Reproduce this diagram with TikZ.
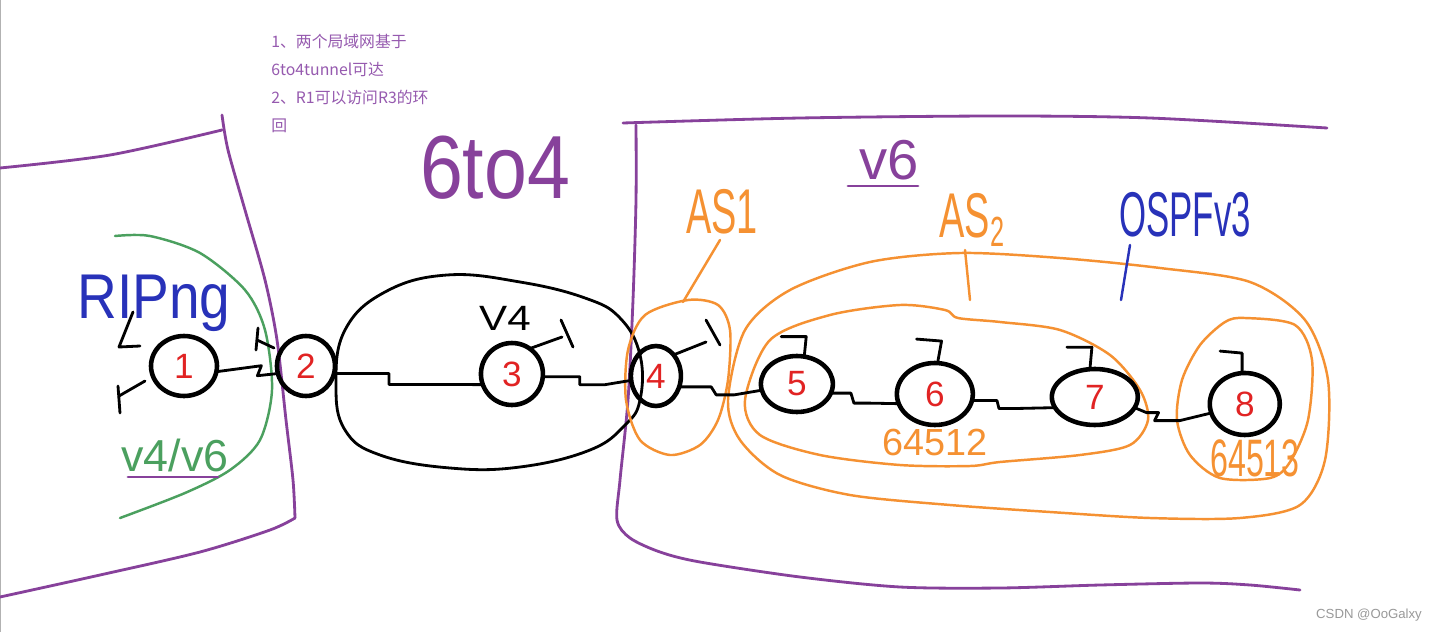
\documentclass[tikz,border=0pt]{standalone}
\usepackage{fontspec}
\setmainfont{Liberation Sans}
\newfontfamily\cjkfont{Noto Sans CJK SC}
\usetikzlibrary{positioning,shapes.geometric}
\definecolor{penpurple}{RGB}{135,65,155}
\definecolor{notepurple}{RGB}{150,90,175}
\definecolor{pengreen}{RGB}{75,160,95}
\definecolor{penorange}{RGB}{245,145,50}
\definecolor{penblue}{RGB}{40,50,185}
\definecolor{penred}{RGB}{225,35,35}
\tikzset{router/.style = {draw, ellipse, line width=2.6pt, inner sep=0pt, outer sep=0pt, text=penred, font=\fontsize{20}{20}\selectfont}}
\tikzset{wire/.style = {line width=1.6pt, black}}
\tikzset{border/.style = {line width=1.6pt, penpurple}}
\tikzset{asloop/.style = {line width=1.4pt, penorange}}
\tikzset{hand/.style = {inner sep=0pt}}
\tikzset{note/.style = {inner sep=0pt, anchor=north west, align=left, text=notepurple, font=\cjkfont\fontsize{9}{16}\selectfont}}

\begin{document}
\begin{tikzpicture}[x=0.02cm, y=-0.02cm, node distance=1cm, line join=round, line cap=round]
  \useasboundingbox (0,0) rectangle (1433,632);
  \fill[white] (0,0) rectangle (1433,632);
  \draw[line width=0.6pt, gray!60] (0.5,0) -- (0.5,632);

  \draw[border] plot[smooth] coordinates {(0,168) (110,155) (222,130)};
  \draw[border] plot[smooth] coordinates {(222,115) (228,150) (245,210) (265,280) (277,340) (286,420) (293,480) (295,518)};
  \draw[border] plot[smooth] coordinates {(295,518) (270,530) (200,552) (100,575) (0,597)};

  \draw[border] plot[smooth] coordinates {(623,123) (800,118) (1000,116) (1150,118) (1327,128)};
  \draw[border] plot[smooth] coordinates {(636,125) (636,200) (633,300) (628,400) (620,480) (617,520) (630,538) (660,552) (700,562) (800,577) (900,587) (1000,588) (1100,585) (1200,583) (1250,585) (1300,590)};

  \draw[line width=1.4pt, pengreen] plot[smooth] coordinates {(115,236) (150,236) (200,253) (245,290) (265,330) (272,390) (260,440) (230,470) (185,493) (120,518)};

  \draw[wire] plot[smooth cycle, tension=0.7] coordinates {(336,385) (345,330) (385,292) (447,275) (520,282) (585,298) (620,318) (640,355) (640,400) (625,425) (590,450) (520,467) (450,468) (380,455) (345,430)};

  \draw[asloop] plot[smooth cycle] coordinates {(688,300) (718,305) (730,330) (728,380) (718,420) (700,445) (670,455) (640,440) (626,400) (628,350) (645,315)};
  \draw[asloop] plot[smooth cycle] coordinates {(745,400) (770,340) (830,315) (900,305) (945,310) (958,318) (1000,322) (1060,330) (1110,355) (1140,390) (1148,420) (1130,445) (1080,455) (1000,462) (970,466) (900,465) (820,455) (760,435)};
  \draw[asloop] plot[smooth cycle] coordinates {(728,400) (745,330) (790,290) (870,262) (960,253) (1060,258) (1160,268) (1250,282) (1305,320) (1328,380) (1325,460) (1300,505) (1240,518) (1150,518) (1050,512) (950,505) (850,495) (780,475) (740,440)};
  \draw[asloop] plot[smooth cycle] coordinates {(1245,318) (1295,325) (1312,360) (1308,420) (1290,462) (1270,478) (1220,478) (1190,455) (1177,420) (1182,380) (1200,345) (1225,322)};

  \node [router, minimum width=1.32cm, minimum height=1.2cm] (r1) at (184,366) {1};
  \node [router, minimum width=1.16cm, minimum height=1.2cm, right=1.2cm of r1] (r2) {2};
  \node [router, minimum width=1.24cm, minimum height=1.24cm, right=2.92cm of r2, yshift=-0.16cm] (r3) {3};
  \node [router, minimum width=1.0cm, minimum height=1.2cm, right=1.76cm of r3, yshift=-0.04cm] (r4) {4};
  \node [router, minimum width=1.44cm, minimum height=1.12cm, right=1.6cm of r4, yshift=-0.16cm] (r5) {5};
  \node [router, minimum width=1.52cm, minimum height=1.24cm, right=1.28cm of r5, yshift=-0.2cm] (r6) {6};
  \node [router, minimum width=1.72cm, minimum height=1.12cm, right=1.58cm of r6, yshift=-0.06cm] (r7) {7};
  \node [router, minimum width=1.4cm, minimum height=1.24cm, right=1.44cm of r7, yshift=-0.14cm] (r8) {8};

  \draw[wire] (r1.-10) -- ++(45,-6) -- ++(-4,10) -- (r2.195);
  \draw[wire] (r2.-15) -- ++(55,0) -- ++(0,11) -- (r3.200);
  \draw[wire] (r3.-5) -- ++(37,0) -- ++(0,8) -- ++(25,0) -- (r4.190);
  \draw[wire] (r4.-25) -- ++(32,0) -- ++(5,8) -- ++(18,0) -- (r5.190);
  \draw[wire] (r5.-15) -- ++(20,0) -- ++(3,10) -- ++(15,0) -- (r6.195);
  \draw[wire] (r6.-10) -- ++(25,0) -- ++(2,8) -- ++(15,0) -- (r7.195);
  \draw[wire] (r7.-15) -- ++(12,5) -- ++(12,0) -- ++(-4,8) -- ++(25,0) -- (r8.195);

  \draw[wire] (133,312) -- (119,347) -- (140,346);
  \draw[wire] (120,413) -- (118,386);
  \draw[wire] (119,396) -- (145,381);
  \draw[wire] (258,328) -- (256,350);
  \draw[wire] (257,340) -- (274,348);
  \draw[wire] (r3.55) -- (562,337);
  \draw[wire] (561,320) -- (573,347);
  \draw[wire] (r4.50) -- (706,342);
  \draw[wire] (706,320) -- (720,345);
  \draw[wire] (r5.75) -- ++(2,-20) -- ++(-25,0);
  \draw[wire] (r6.85) -- ++(4,-22) -- ++(-25,-2);
  \draw[wire] (r7.100) -- ++(2,-22) -- ++(-25,0);
  \draw[wire] (r8.95) -- ++(0,-20) -- ++(-22,-2);

  \node [note] (goals) at (271,34) {1、两个局域网基于\\6to4tunnel可达\\2、R1可以访问R3的环\\回};

  \node [hand, text=penpurple, font=\fontsize{51}{51}\selectfont] (tunnel) at (495,168) {\scalebox{0.86}[1]{6to4}};
  \node [hand, text=penpurple, font=\fontsize{32}{32}\selectfont] (v6) at (889,160) {v6};
  \draw[border] (848,186) -- (918,186);
  \node [hand, text=penblue, font=\fontsize{36}{36}\selectfont] (rip) at (154,303) {\scalebox{0.87}[1]{RIPng}};
  \node [hand, text=pengreen, font=\fontsize{25.5}{25.5}\selectfont] (dual) at (175,455) {v4/v6};
  \draw[border] (128,477) -- (218,477);
  \node [hand, text=black, font=\fontsize{20}{20}\selectfont] (v4) at (505,318) {\scalebox{1.2}[1]{V4}};
  \node [hand, text=penorange, font=\fontsize{36}{36}\selectfont] (as1) at (722,212) {\scalebox{0.6}[1]{AS1}};
  \node [hand, text=penorange, font=\fontsize{36}{36}\selectfont] (as2) at (972,220) {\scalebox{0.6}[1]{AS\raisebox{-0.15em}{\fontsize{24}{24}\selectfont 2}}};
  \node [hand, text=penblue, font=\fontsize{36}{36}\selectfont] (ospf) at (1185,215) {\scalebox{0.55}[1]{OSPFv3}};
  \node [hand, text=penorange, font=\fontsize{21.5}{21.5}\selectfont] (asn2) at (935,442) {64512};
  \node [hand, text=penorange, font=\fontsize{30}{30}\selectfont] (asn3) at (1255,458) {\scalebox{0.61}[1]{64513}};

  \draw[asloop] (720,240) -- (683,302);
  \draw[asloop] (965,250) -- (970,300);
  \draw[line width=1.4pt, penblue] (1130,245) -- (1121,300);

  \node [hand, text=gray!80, font=\fontsize{7.5}{7.5}\selectfont] (mark) at (1369,615) {CSDN @OoGalxy};
\end{tikzpicture}
\end{document}
